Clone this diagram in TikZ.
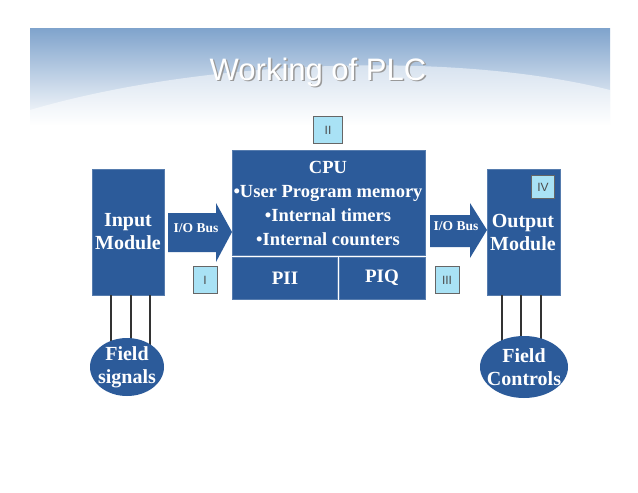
\documentclass[tikz,border=0pt]{standalone}
\usepackage{fontspec}
\usetikzlibrary{shapes.geometric}
\setmainfont{Liberation Serif}
\newfontfamily\sansf{Liberation Sans}
\begin{document}
\begin{tikzpicture}[x=1pt,y=-1pt,
  blk/.style={fill=plcblue,draw=plcblue!80!white,line width=0.6pt},
  wt/.style={text=white,font=\bfseries\fontsize{20}{23}\selectfont,align=center},
  tag/.style={draw=black!60,fill=tagblue,minimum width=24pt,minimum height=27pt,inner sep=0pt,font=\sansf\fontsize{12}{12}\selectfont,text=black!70},
  wire/.style={draw=black!80,line width=1.2pt}]
\definecolor{plcblue}{HTML}{2C5B9A}
\definecolor{tagblue}{HTML}{A9E2F5}
\definecolor{bannerblue}{HTML}{7FA3CC}
\useasboundingbox (0,0) rectangle (638,493);
\fill[white] (0,0) rectangle (638,493);
% banner
\shade[top color=bannerblue,bottom color=white] (30,28) rectangle (610,125);
\fill[white,opacity=0.5] (30,110) .. controls (200,60) and (450,50) .. (610,90) -- (610,125) -- (30,125) -- cycle;
\node[text=black!40,font=\sansf\fontsize{31}{33}\selectfont] at (319.5,73.5) {Working of PLC};
\node[text=white,font=\sansf\fontsize{31}{33}\selectfont] (title) at (318,72) {Working of PLC};
% input
\fill[blk] (92,169) rectangle (164,295);
\node[wt] (in) at (128,232) {Input\\Module};
\fill[blk] (487,169) rectangle (560,295);
\node[wt] (out) at (523,232) {Output\\Module};
% CPU
\fill[blk] (232,150) rectangle (425,255);
\node[wt,font=\bfseries\fontsize{18.5}{24}\selectfont] (cpu) at (328,203) {CPU\\\textbullet User Program memory\\\textbullet Internal timers\\\textbullet Internal counters};
\fill[blk] (232,257) rectangle (337,299);
\fill[blk] (339,257) rectangle (425,299);
\node[wt,font=\bfseries\fontsize{19}{20}\selectfont] (pii) at (285,278) {PII};
\node[wt,font=\bfseries\fontsize{19}{20}\selectfont] (piq) at (382,278) {PIQ};
% arrows
\fill[plcblue] (168,213) -- (216,213) -- (216,203) -- (232,232) -- (216,262) -- (216,252) -- (168,252) -- cycle;
\node[wt,font=\bfseries\fontsize{13.5}{14}\selectfont] (b1) at (196,228) {I/O Bus};
\fill[plcblue] (430,215) -- (470,215) -- (470,203) -- (487,230) -- (470,258) -- (470,247) -- (430,247) -- cycle;
\node[wt,font=\bfseries\fontsize{13.5}{14}\selectfont] (b2) at (456,226) {I/O Bus};
% tags
\node[tag] (t1) at (205,280) {I};
\node[tag,minimum width=29pt] (t2) at (328,130) {II};
\node[tag] (t3) at (447,280) {III};
\node[tag,minimum width=23pt,minimum height=23pt] (t4) at (543,187) {IV};
% ellipses
\foreach \x in {111,131,150} \draw[wire] (\x,295) -- (\x,345);
\foreach \x in {502,521,541} \draw[wire] (\x,295) -- (\x,342);
\node[ellipse,fill=plcblue,minimum width=74pt,minimum height=58pt,inner sep=0pt] (fs) at (127,367) {};
\node[wt] at (fs) {Field\\signals};
\node[ellipse,fill=plcblue,minimum width=88pt,minimum height=62pt,inner sep=0pt] (fc) at (524,367) {};
\node[wt] at (fc) {Field\\Controls};
\end{tikzpicture}
\end{document}
